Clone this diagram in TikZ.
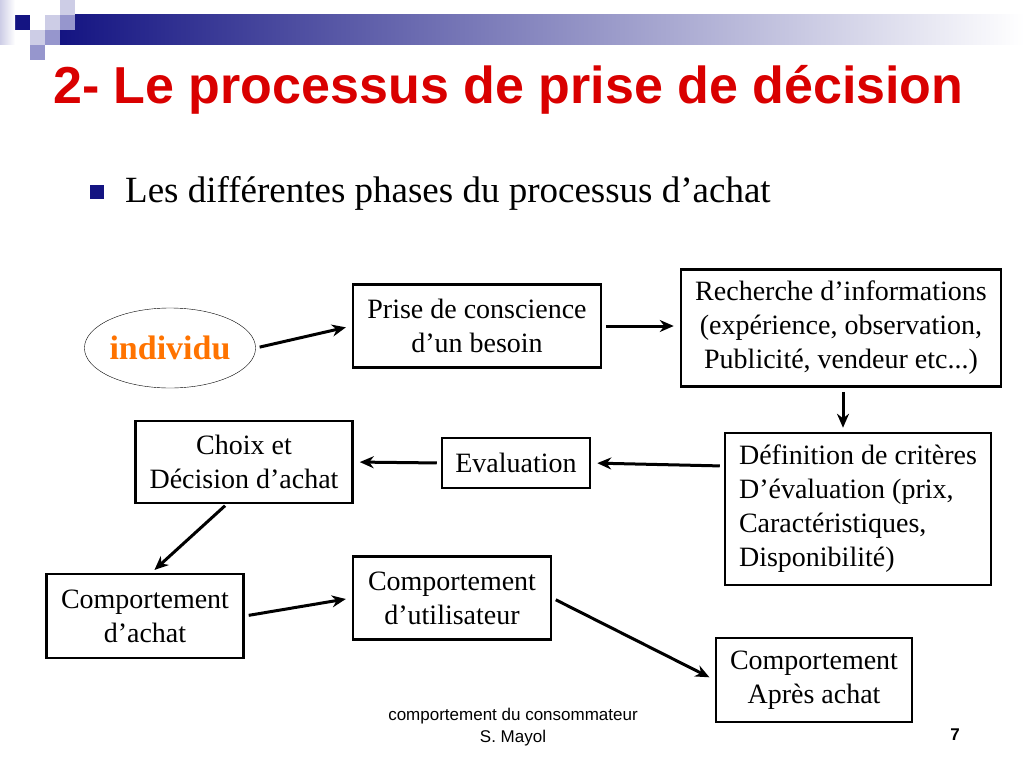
\documentclass[tikz,border=0pt]{standalone}
\usepackage{fontspec}
\setmainfont{Liberation Serif}
\setsansfont{Liberation Sans}
\usetikzlibrary{arrows.meta,shapes.geometric}
\definecolor{navy}{RGB}{20,20,130}
\definecolor{lightsq}{RGB}{205,205,230}
\definecolor{midsq}{RGB}{150,150,205}
\tikzset{
  etape/.style={draw,line width=2.5pt,align=center,font=\fontsize{28}{34}\selectfont,inner sep=0pt},
  fleche/.style={line width=3pt,-{Stealth[length=14pt,width=12pt]},shorten >=6pt,shorten <=4pt}
}
\begin{document}
\begin{tikzpicture}[x=1pt,y=-1pt]
\useasboundingbox (0,0) rectangle (1024,768);
% bandeau
\shade[left color=navy,right color=white] (60,15) rectangle (1024,45);
\fill[navy] (15,15) rectangle (30,30);
\fill[lightsq] (45,15) rectangle (60,30);
\fill[midsq] (60,15) rectangle (75,30);
\fill[lightsq] (60,0) rectangle (75,15);
\fill[lightsq] (30,30) rectangle (45,45);
\fill[midsq] (45,30) rectangle (60,45);
\fill[midsq] (30,45) rectangle (45,60);
\shade[left color=lightsq,right color=white] (0,0) rectangle (15,45);
% titre
\node[anchor=base west,font=\sffamily\bfseries\fontsize{52}{60}\selectfont,text=red!85!black,inner sep=0pt] (titre) at (53,103) {2- Le processus de prise de décision};
\fill[navy] (90,185) rectangle (104,199);
\node[anchor=base west,font=\fontsize{37}{44}\selectfont,inner sep=0pt] (sous) at (125,202) {Les différentes phases du processus d’achat};
% etapes
\node[draw,ellipse,minimum width=150pt,minimum height=80pt,font=\bfseries\fontsize{34}{40}\selectfont,text=orange!90!red,inner sep=0pt] (ind) at (170,348) {individu};
\node[etape,minimum width=248pt,minimum height=83pt] (besoin) at (477,326) {Prise de conscience\\d’un besoin};
\node[etape,minimum width=320pt,minimum height=117pt] (info) at (841,328) {Recherche d’informations\\(expérience, observation,\\Publicité, vendeur etc...)};
\node[etape,minimum width=266pt,minimum height=152pt,align=left,inner xsep=11pt] (crit) at (858,509) {Définition de critères\\D’évaluation (prix,\\Caractéristiques,\\Disponibilité)};
\node[etape,minimum width=148pt,minimum height=50pt] (eval) at (516,463) {Evaluation};
\node[etape,minimum width=217pt,minimum height=82pt] (choix) at (244,462) {Choix et\\Décision d’achat};
\node[etape,minimum width=197pt,minimum height=84pt] (achat) at (145,616) {Comportement\\d’achat};
\node[etape,minimum width=198pt,minimum height=83pt] (util) at (452,598) {Comportement\\d’utilisateur};
\node[etape,minimum width=196pt,minimum height=84pt] (apres) at (814,680) {Comportement\\Après achat};
% fleches
\draw[fleche] (ind.east) -- (besoin.west);
\draw[fleche] (besoin.east) -- (info.west |- besoin.east);
\draw[fleche,shorten >=4pt] (info.south -| 843,0) -- (crit.north -| 843,0);
\draw[fleche] (crit.west |- 0,466) -- (eval.east);
\draw[fleche] (eval.west) -- (choix.east);
\coordinate (c1) at (228,503);
\coordinate (c2) at (150,574);
\draw[fleche] (c1) -- (c2);
\draw[fleche] (achat.east) -- (util.west);
\draw[fleche] (util.east) -- (apres.west);
% pied
\node[font=\sffamily\fontsize{17}{22}\selectfont,align=center] (pied) at (513,727) {comportement du consommateur\\S. Mayol};
\node[font=\sffamily\bfseries\fontsize{17}{20}\selectfont] (num) at (955,735) {7};
\end{tikzpicture}
\end{document}
